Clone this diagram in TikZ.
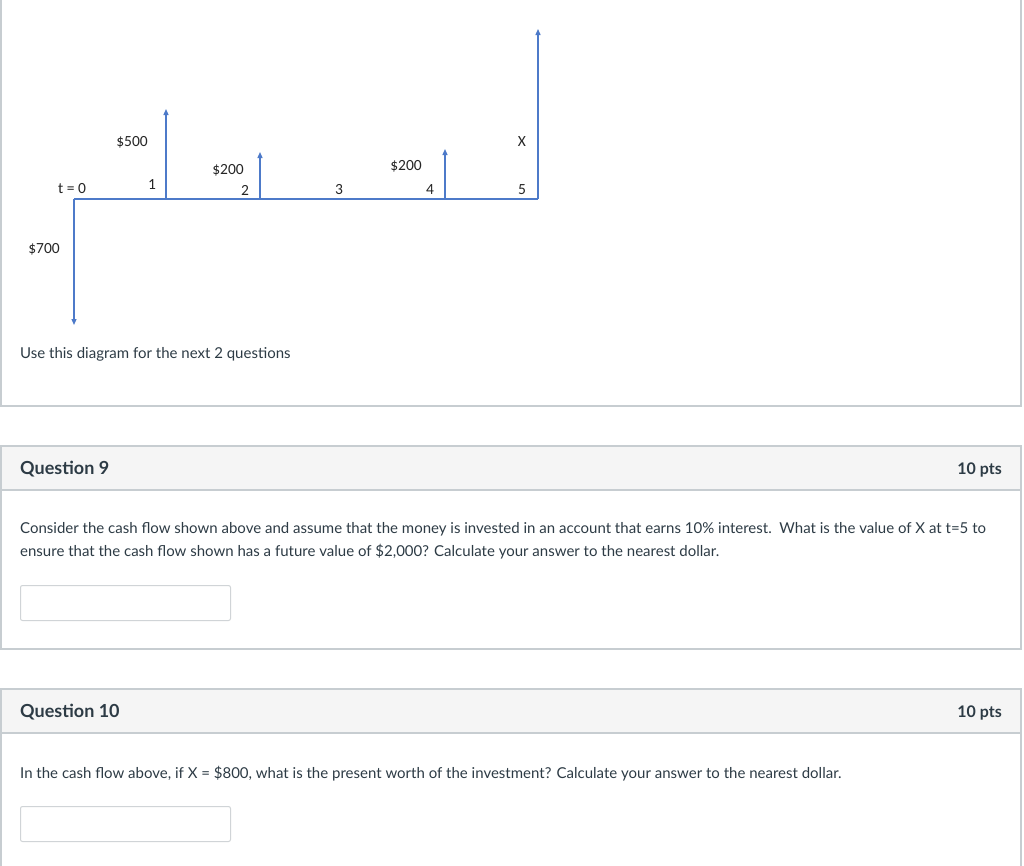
\documentclass[tikz,border=0pt]{standalone}
\usepackage{fontspec}
\setmainfont{Lato}
\newfontfamily\diagfont{Carlito}
\usetikzlibrary{arrows.meta}
\definecolor{flowblue}{HTML}{4D7AC9}
\definecolor{frame}{HTML}{C7CDD1}
\definecolor{headfill}{HTML}{F5F5F5}
\definecolor{boxline}{HTML}{D0D4D7}
\definecolor{txt}{HTML}{2D3B45}
\tikzset{
  flow/.style={draw=flowblue, line width=1.3pt},
  flowarrow/.style={flow, -{Triangle[length=6pt,width=5pt]}},
  lab/.style={font=\diagfont\fontsize{15.5}{18}\selectfont, text=black!85, inner sep=0pt},
  panel/.style={draw=frame, line width=1.2pt},
  header/.style={fill=headfill, draw=frame, line width=1.2pt},
  qtitle/.style={font=\fontsize{18}{21}\selectfont\bfseries, text=txt, anchor=west, inner sep=0pt},
  pts/.style={font=\fontsize{16}{19}\selectfont\bfseries, text=txt, anchor=east, inner sep=0pt},
  body/.style={font=\fontsize{15}{23.5}\selectfont, text=txt, anchor=north west, inner sep=0pt, align=left},
  ansbox/.style={draw=boxline, line width=1pt, rounded corners=2pt, fill=white}
}
\begin{document}
\begin{tikzpicture}[x=1pt,y=-1pt]
\useasboundingbox (0,0) rectangle (1024,865);
\fill[white] (0,0) rectangle (1024,865);
% top panel
\draw[panel] (1,0) -- (1,406) -- (1021,406) -- (1021,0);
% diagram
\coordinate (t0) at (74,199);
\coordinate (t1) at (166,199);
\coordinate (t2) at (260,199);
\coordinate (t4) at (445,199);
\coordinate (t5) at (538,199);
\coordinate (d0) at (74,325);
\coordinate (u1) at (166,109);
\coordinate (u2) at (260,152);
\coordinate (u4) at (445,149);
\coordinate (u5) at (538,29);
\draw[flow] (t0) -- (t5);
\draw[flowarrow] (t0) -- (d0);
\draw[flowarrow] (t1) -- (u1);
\draw[flowarrow] (t2) -- (u2);
\draw[flowarrow] (t4) -- (u4);
\draw[flowarrow] (t5) -- (u5);
\node[lab] (l0) at (72,189) {t = 0};
\node[lab] (l1) at (152,185) {1};
\node[lab] (l2) at (245,190) {2};
\node[lab] (l3) at (339,190) {3};
\node[lab] (l4) at (430,190) {4};
\node[lab] (l5) at (522,190) {5};
\node[lab] (v500) at (132,142) {\$500};
\node[lab] (v200a) at (228,170) {\$200};
\node[lab] (v200b) at (406,166) {\$200};
\node[lab] (vx) at (522,142) {X};
\node[lab] (v700) at (44,249) {\$700};
\node[body] (use) at (20,347) {Use this diagram for the next 2 questions};
% question 9
\draw[panel] (1,446) rectangle (1021,649);
\draw[header] (1,446) rectangle (1021,490);
\node[qtitle] (q9) at (20,469) {Question 9};
\node[pts] (p9) at (1002,470) {10 pts};
\node[body] (t9) at (20,522) {Consider the cash flow shown above and assume that the money is invested in an account that earns 10\% interest.\ \ What is the value of X at t=5 to\\ensure that the cash flow shown has a future value of \$2,000? Calculate your answer to the nearest dollar.};
\node[ansbox, minimum width=210pt, minimum height=35pt, anchor=north west] (a9) at (20,585) {};
% question 10
\draw[panel] (1,870) -- (1,689) -- (1021,689) -- (1021,870);
\draw[header] (1,689) rectangle (1021,733);
\node[qtitle] (q10) at (20,712) {Question 10};
\node[pts] (p10) at (1002,713) {10 pts};
\node[body] (t10) at (20,766) {In the cash flow above, if X = \$800, what is the present worth of the investment? Calculate your answer to the nearest dollar.};
\node[ansbox, minimum width=210pt, minimum height=35pt, anchor=north west] (a10) at (20,806) {};
\end{tikzpicture}
\end{document}
